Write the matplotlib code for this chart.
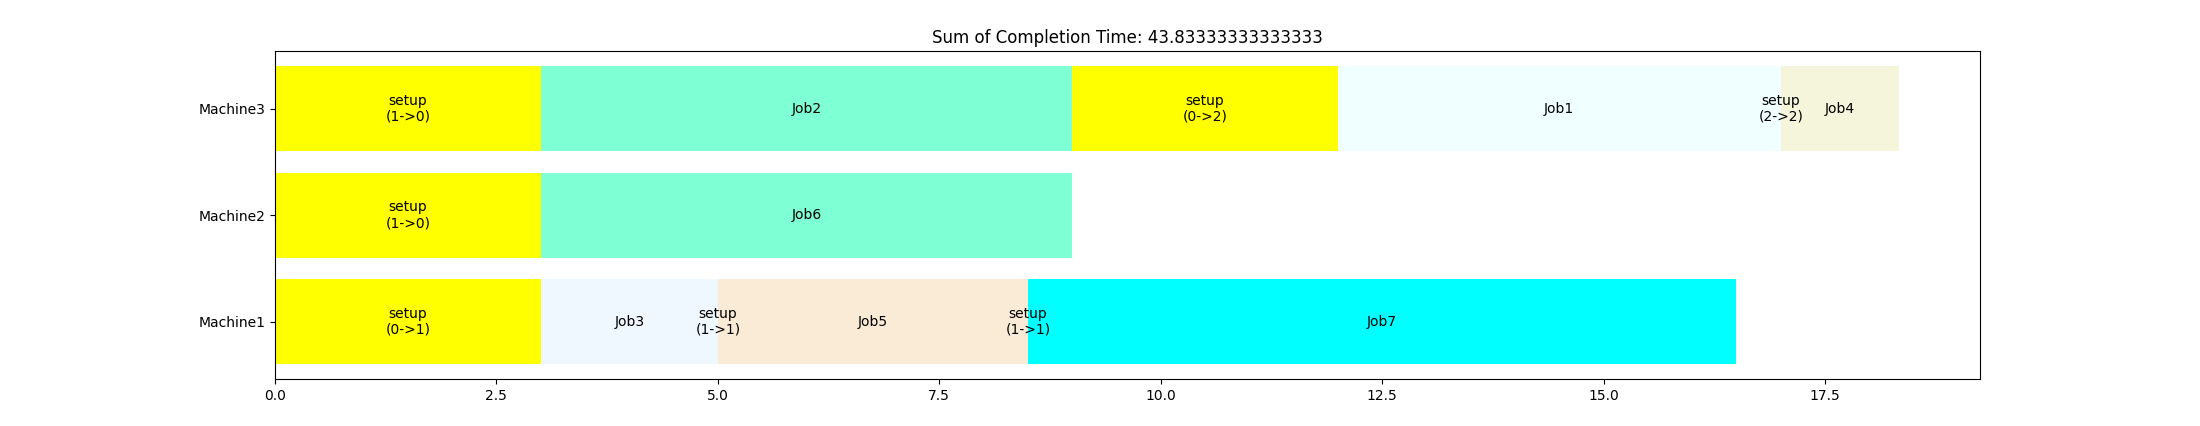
import matplotlib
matplotlib.use('Agg')
import matplotlib.pyplot as plt

machines = ['Machine1', 'Machine2', 'Machine3']

# each task: (machine index, label, start, duration, colour)
m1_labels = ['setup\n(0->1)', 'Job3', 'setup\n(1->1)', 'Job5', 'setup\n(1->1)', 'Job7']
m1_starts = [0, 3, 5, 5, 8.5, 8.5]
m1_durs = [3, 2, 0, 3.5, 0, 8]
m1_colors = ['yellow', 'aliceblue', 'yellow', 'antiquewhite', 'yellow', 'cyan']

m2_labels = ['setup\n(1->0)', 'Job6']
m2_starts = [0, 3]
m2_durs = [3, 6]
m2_colors = ['yellow', 'aquamarine']

m3_labels = ['setup\n(1->0)', 'Job2', 'setup\n(0->2)', 'Job1', 'setup\n(2->2)', 'Job4']
m3_starts = [0, 3, 9, 12, 17, 17]
m3_durs = [3, 6, 3, 5, 0, 4 / 3]
m3_colors = ['yellow', 'aquamarine', 'yellow', 'azure', 'yellow', 'beige']

total = 43.83333333333333

fig, ax = plt.subplots(figsize=(22, 4.26), dpi=100)

rows = [
    (m1_labels, m1_starts, m1_durs, m1_colors),
    (m2_labels, m2_starts, m2_durs, m2_colors),
    (m3_labels, m3_starts, m3_durs, m3_colors),
]
for i, (labels, starts, durs, colors) in enumerate(rows):
    for lab, s, d, c in zip(labels, starts, durs, colors):
        ax.barh(i, d, left=s, color=c)
        ax.text(s + d / 2, i, lab, ha='center', va='center')

ax.set_yticks(range(len(machines)))
ax.set_yticklabels(machines)
ax.set_title('Sum of Completion Time: ' + str(total))

plt.savefig('out.png')
